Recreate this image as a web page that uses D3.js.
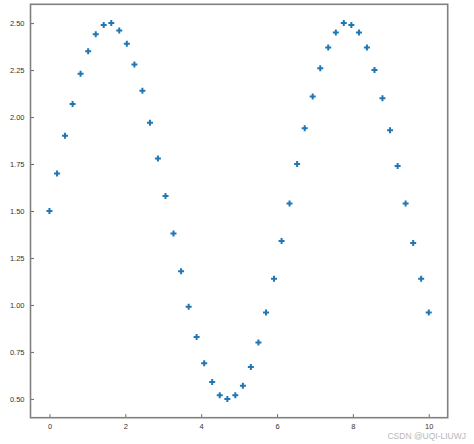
<!DOCTYPE html>
<html>
<head>
<meta charset="utf-8">
<script src="https://cdn.jsdelivr.net/npm/d3@7"></script>
<style>
  body { margin: 0; background: #fff; }
  text { font-family: "Liberation Sans", Arial, sans-serif; }
</style>
</head>
<body>
<script>
// data
var xValues = [
    0.00, 0.20, 0.41, 0.61, 0.82, 1.02, 1.22, 1.43, 1.63, 1.84,
    2.04, 2.24, 2.45, 2.65, 2.86, 3.06, 3.27, 3.47, 3.67, 3.88,
    4.08, 4.29, 4.49, 4.69, 4.90, 5.10, 5.31, 5.51, 5.71, 5.92,
    6.12, 6.33, 6.53, 6.73, 6.94, 7.14, 7.35, 7.55, 7.76, 7.96,
    8.16, 8.37, 8.57, 8.78, 8.98, 9.18, 9.39, 9.59, 9.80, 10.00
];
var yValues = [
    1.50, 1.70, 1.90, 2.07, 2.23, 2.35, 2.44, 2.49, 2.50, 2.46,
    2.39, 2.28, 2.14, 1.97, 1.78, 1.58, 1.38, 1.18, 0.99, 0.83,
    0.69, 0.59, 0.52, 0.50, 0.52, 0.57, 0.67, 0.80, 0.96, 1.14,
    1.34, 1.54, 1.75, 1.94, 2.11, 2.26, 2.37, 2.45, 2.50, 2.49,
    2.45, 2.37, 2.25, 2.10, 1.93, 1.74, 1.54, 1.33, 1.14, 0.96
];
var xTicks = [0, 2, 4, 6, 8, 10];
var yTicks = [0.50, 0.75, 1.00, 1.25, 1.50, 1.75, 2.00, 2.25, 2.50];

var width = 474,
    height = 444;
// plot frame ('top' is taken by window.top, so use other names)
var frameLeft = 30.5, frameRight = 447.7, frameTop = 4.3, frameBottom = 417.7;

var markerColor = '#1f77b4',
    frameColor = '#808080';

var svg = d3.select('body')
    .append('svg')
    .attr('width', width)
    .attr('height', height);

var x = d3.scaleLinear().domain([-0.5, 10.5]).range([frameLeft, frameRight]);
var y = d3.scaleLinear().domain([0.4, 2.6]).range([frameBottom, frameTop]);

// axes, ticks pointing inward
var xAxis = svg.append('g')
    .attr('transform', 'translate(0,' + frameBottom + ')')
    .call(d3.axisBottom(x).tickValues(xTicks).tickSizeInner(-3.5).tickSizeOuter(0)
        .tickPadding(6).tickFormat(d3.format('d')));

var yAxis = svg.append('g')
    .attr('transform', 'translate(' + frameLeft + ',0)')
    .call(d3.axisLeft(y).tickValues(yTicks).tickSizeInner(-3.5).tickSizeOuter(0)
        .tickPadding(6).tickFormat(d3.format('.2f')));

[xAxis, yAxis].forEach(function (g) {
    g.select('.domain').remove();
    g.selectAll('.tick line').attr('stroke', '#444').attr('stroke-width', 0.8);
    g.selectAll('.tick text')
        .attr('fill', '#333')
        .style('font-size', '7.5px')
        .style('font-family', '"Liberation Sans", Arial, sans-serif');
});

// frame
svg.append('rect')
    .attr('x', frameLeft)
    .attr('y', frameTop)
    .attr('width', frameRight - frameLeft)
    .attr('height', frameBottom - frameTop)
    .attr('fill', 'none')
    .attr('stroke', frameColor)
    .attr('stroke-width', 1.6);

// filled plus markers
var plus = d3.symbol().type(d3.symbolCross).size(20);

svg.append('g').selectAll('path')
    .data(xValues)
    .enter()
    .append('path')
    .attr('d', plus)
    .attr('transform', function (d, i) {
        return 'translate(' + x(d) + ',' + y(yValues[i]) + ')';
    })
    .attr('fill', markerColor);

// watermark
svg.append('text')
    .attr('x', 466)
    .attr('y', 438.5)
    .attr('text-anchor', 'end')
    .attr('fill', '#b8b8b8')
    .style('font-size', '8.5px')
    .text('CSDN @UQI-LIUWJ');
</script>
</body>
</html>
